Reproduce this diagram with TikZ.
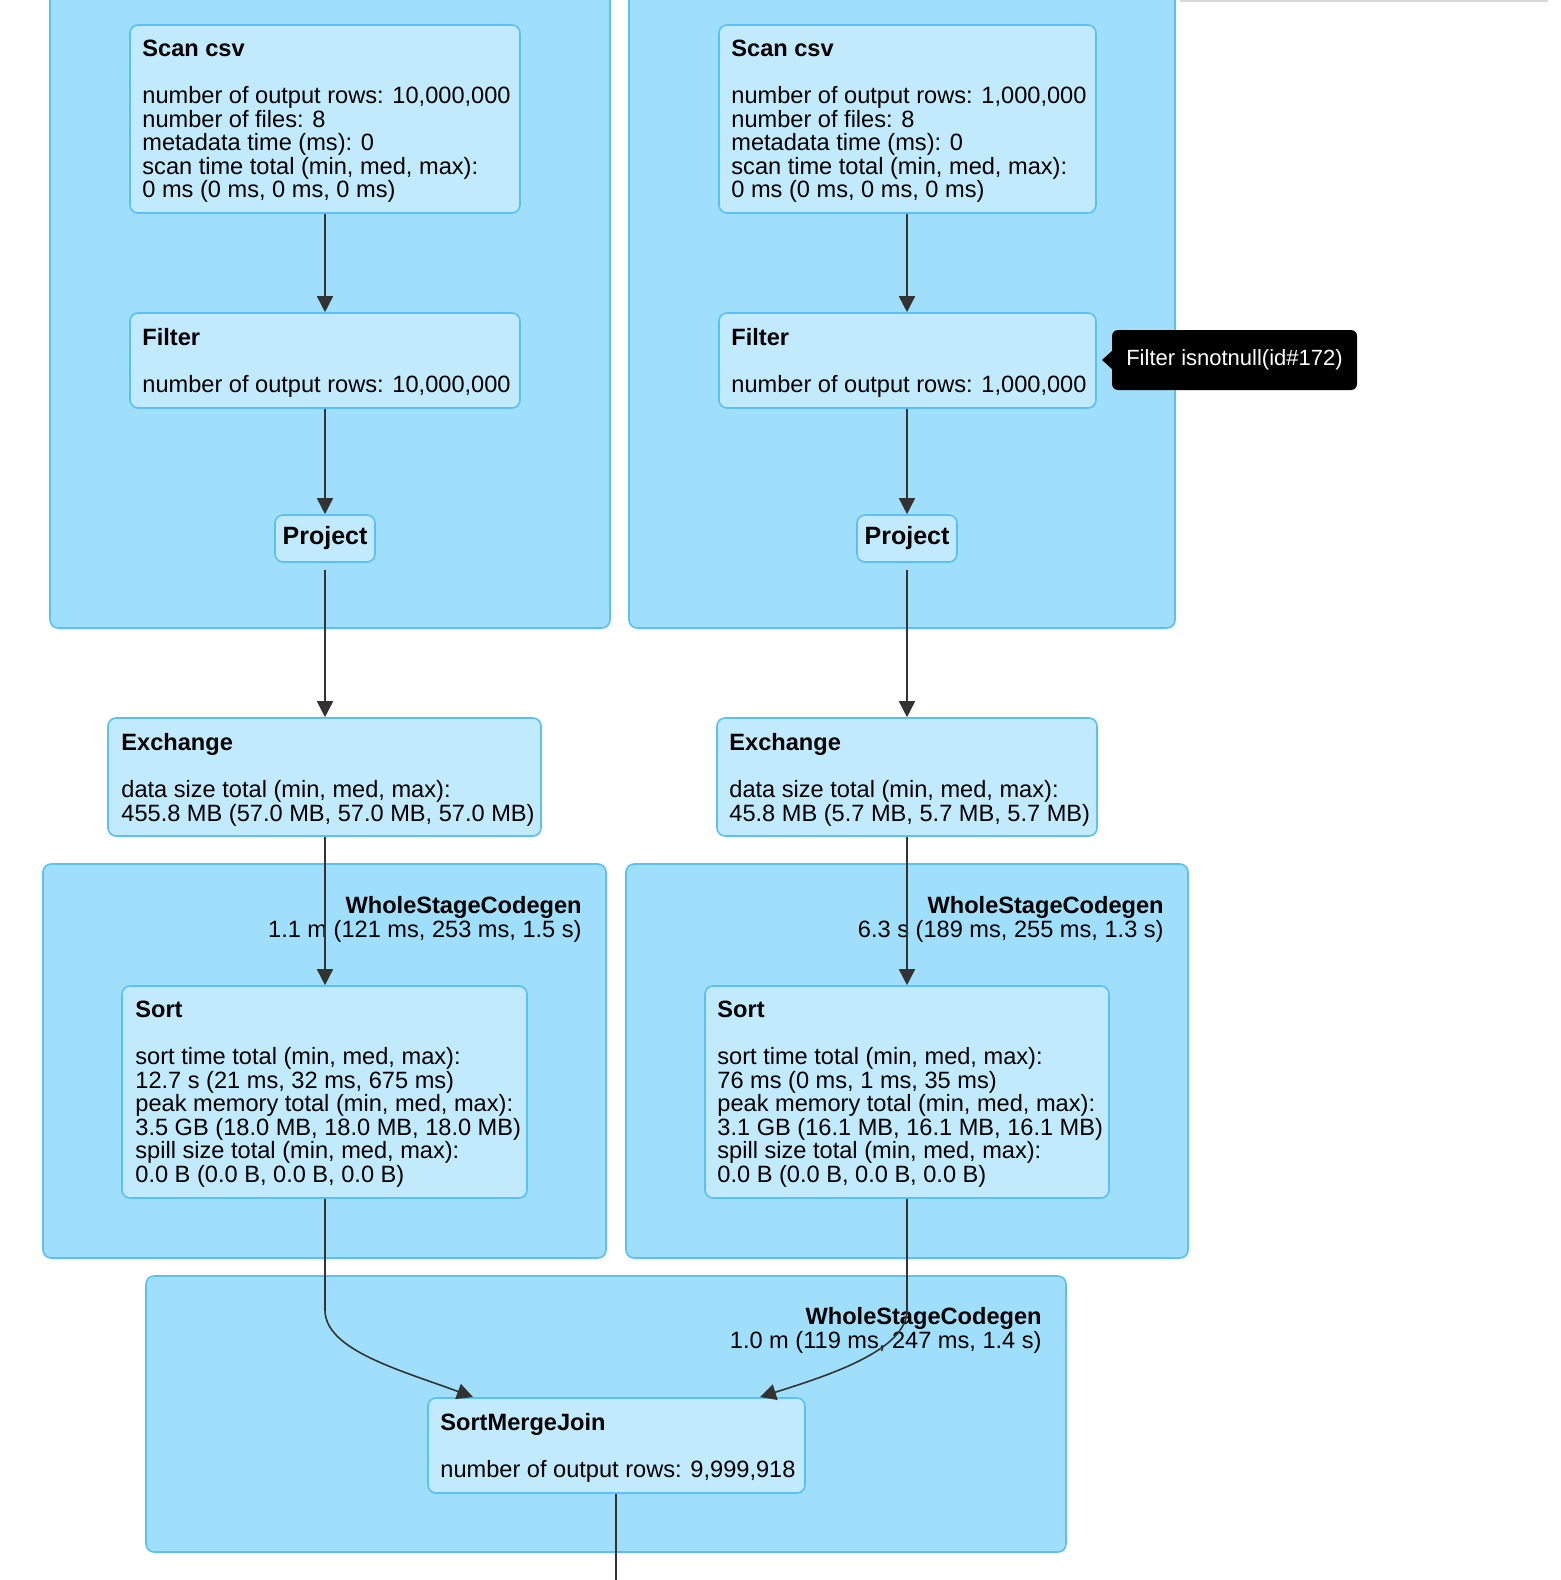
\documentclass[tikz,border=0pt]{standalone}
\usepackage{fontspec}
\setmainfont{Liberation Sans}
\usetikzlibrary{fit,arrows.meta}
\definecolor{clus}{HTML}{A0DFFB}
\definecolor{nodef}{HTML}{C2EAFD}
\definecolor{bord}{HTML}{5BC0F5}
\begin{document}
\begin{tikzpicture}[x=0.5pt,y=-0.5pt,
  cl/.style={draw=bord,fill=clus,line width=0.8pt,rounded corners=4pt,inner sep=0pt},
  bx/.style={draw=bord,fill=nodef,line width=0.8pt,rounded corners=4pt,inner sep=0pt},
  tx/.style={anchor=north west,align=left,inner sep=0pt,font=\fontsize{11.8pt}{11.75pt}\selectfont},
  lab/.style={anchor=base east,align=right,inner sep=0pt,font=\fontsize{11.8pt}{11.75pt}\selectfont},
  ed/.style={draw=black!80,line width=0.8pt,-{Triangle[length=8pt,width=8pt]}}]
\useasboundingbox (0,0) rectangle (1560,1580);
\clip (0,0) rectangle (1560,1580);
\fill[white] (0,0) rectangle (1560,1580);
\draw[black!15,line width=0.6pt] (1180,1) -- (1548,1);
% clusters
\node[cl,fit={(50,-10)(610,628)}] (c1) {};
\node[cl,fit={(629,-10)(1175,628)}] (c2) {};
\node[cl,fit={(43,864)(606,1258)}] (c3) {};
\node[cl,fit={(626,864)(1188,1258)}] (c4) {};
\node[cl,fit={(146,1276)(1066,1552)}] (c5) {};
\node[lab] (l3) at (582,937) {\textbf{WholeStageCodegen}\\1.1 m (121 ms, 253 ms, 1.5 s)};
\node[lab] (l4) at (1164,937) {\textbf{WholeStageCodegen}\\6.3 s (189 ms, 255 ms, 1.3 s)};
\node[lab] (l5) at (1042,1348) {\textbf{WholeStageCodegen}\\1.0 m (119 ms, 247 ms, 1.4 s)};
% nodes
\node[bx,fit={(130,25)(520,213)}] (sl) {};
\node[tx] at (142,40) {\textbf{Scan csv}\\[11.75pt]number of output rows: 10,000,000\\number of files: 8\\metadata time (ms): 0\\scan time total (min, med, max):\\0 ms (0 ms, 0 ms, 0 ms)};
\node[bx,fit={(130,313)(520,408)}] (fl) {};
\node[tx] at (142,328) {\textbf{Filter}\\[11.75pt]number of output rows: 10,000,000};
\node[bx,fit={(275,515)(375,562)}] (pl) {};
\node[font=\fontsize{12.5pt}{13pt}\selectfont\bfseries] at (pl) {Project};
\node[bx,fit={(108,718)(541,836)}] (el) {};
\node[tx] at (121,733) {\textbf{Exchange}\\[11.75pt]data size total (min, med, max):\\455.8 MB (57.0 MB, 57.0 MB, 57.0 MB)};
\node[bx,fit={(122,986)(527,1198)}] (sol) {};
\node[tx] at (135,1001) {\textbf{Sort}\\[11.75pt]sort time total (min, med, max):\\12.7 s (21 ms, 32 ms, 675 ms)\\peak memory total (min, med, max):\\3.5 GB (18.0 MB, 18.0 MB, 18.0 MB)\\spill size total (min, med, max):\\0.0 B (0.0 B, 0.0 B, 0.0 B)};
\node[bx,fit={(719,25)(1096,213)}] (sr) {};
\node[tx] at (731,40) {\textbf{Scan csv}\\[11.75pt]number of output rows: 1,000,000\\number of files: 8\\metadata time (ms): 0\\scan time total (min, med, max):\\0 ms (0 ms, 0 ms, 0 ms)};
\node[bx,fit={(719,313)(1096,408)}] (fr) {};
\node[tx] at (731,328) {\textbf{Filter}\\[11.75pt]number of output rows: 1,000,000};
\node[bx,fit={(857,515)(957,562)}] (pr) {};
\node[font=\fontsize{12.5pt}{13pt}\selectfont\bfseries] at (pr) {Project};
\node[bx,fit={(717,718)(1097,836)}] (er) {};
\node[tx] at (729,733) {\textbf{Exchange}\\[11.75pt]data size total (min, med, max):\\45.8 MB (5.7 MB, 5.7 MB, 5.7 MB)};
\node[bx,fit={(705,986)(1109,1198)}] (sor) {};
\node[tx] at (717,1001) {\textbf{Sort}\\[11.75pt]sort time total (min, med, max):\\76 ms (0 ms, 1 ms, 35 ms)\\peak memory total (min, med, max):\\3.1 GB (16.1 MB, 16.1 MB, 16.1 MB)\\spill size total (min, med, max):\\0.0 B (0.0 B, 0.0 B, 0.0 B)};
\node[bx,fit={(428,1398)(805,1493)}] (smj) {};
\node[tx] at (440,1413) {\textbf{SortMergeJoin}\\[11.75pt]number of output rows: 9,999,918};
% tooltip
\fill[black,rounded corners=3pt] (1112,330) rectangle (1357,390);
\fill[black] (1113,350) -- (1102,360) -- (1113,370) -- cycle;
\node[text=white,font=\fontsize{11pt}{12pt}\selectfont] (tt) at (1234.5,360) {Filter isnotnull(id\#172)};
% edges
\coordinate (bot) at (616,1585);
\draw[ed] (sl.south -| 325,0) -- (fl.north -| 325,0);
\draw[ed] (fl.south -| 325,0) -- (pl.north -| 325,0);
\draw[ed] (325,570) -- (el.north -| 325,0);
\draw[ed] (el.south -| 325,0) -- (sol.north -| 325,0);
\draw[ed] (sr.south -| 907,0) -- (fr.north -| 907,0);
\draw[ed] (fr.south -| 907,0) -- (pr.north -| 907,0);
\draw[ed] (907,570) -- (er.north -| 907,0);
\draw[ed] (er.south -| 907,0) -- (sor.north -| 907,0);
\draw[ed] (sol.south -| 325,0) -- (325,1310) .. controls (325,1350) and (400,1370) .. (473,1397);
\draw[ed] (sor.south -| 907,0) -- (907,1310) .. controls (907,1350) and (830,1375) .. (760,1397);
\draw[draw=black!80,line width=0.8pt] (smj.south -| 616,0) -- (bot);
\end{tikzpicture}
\end{document}
